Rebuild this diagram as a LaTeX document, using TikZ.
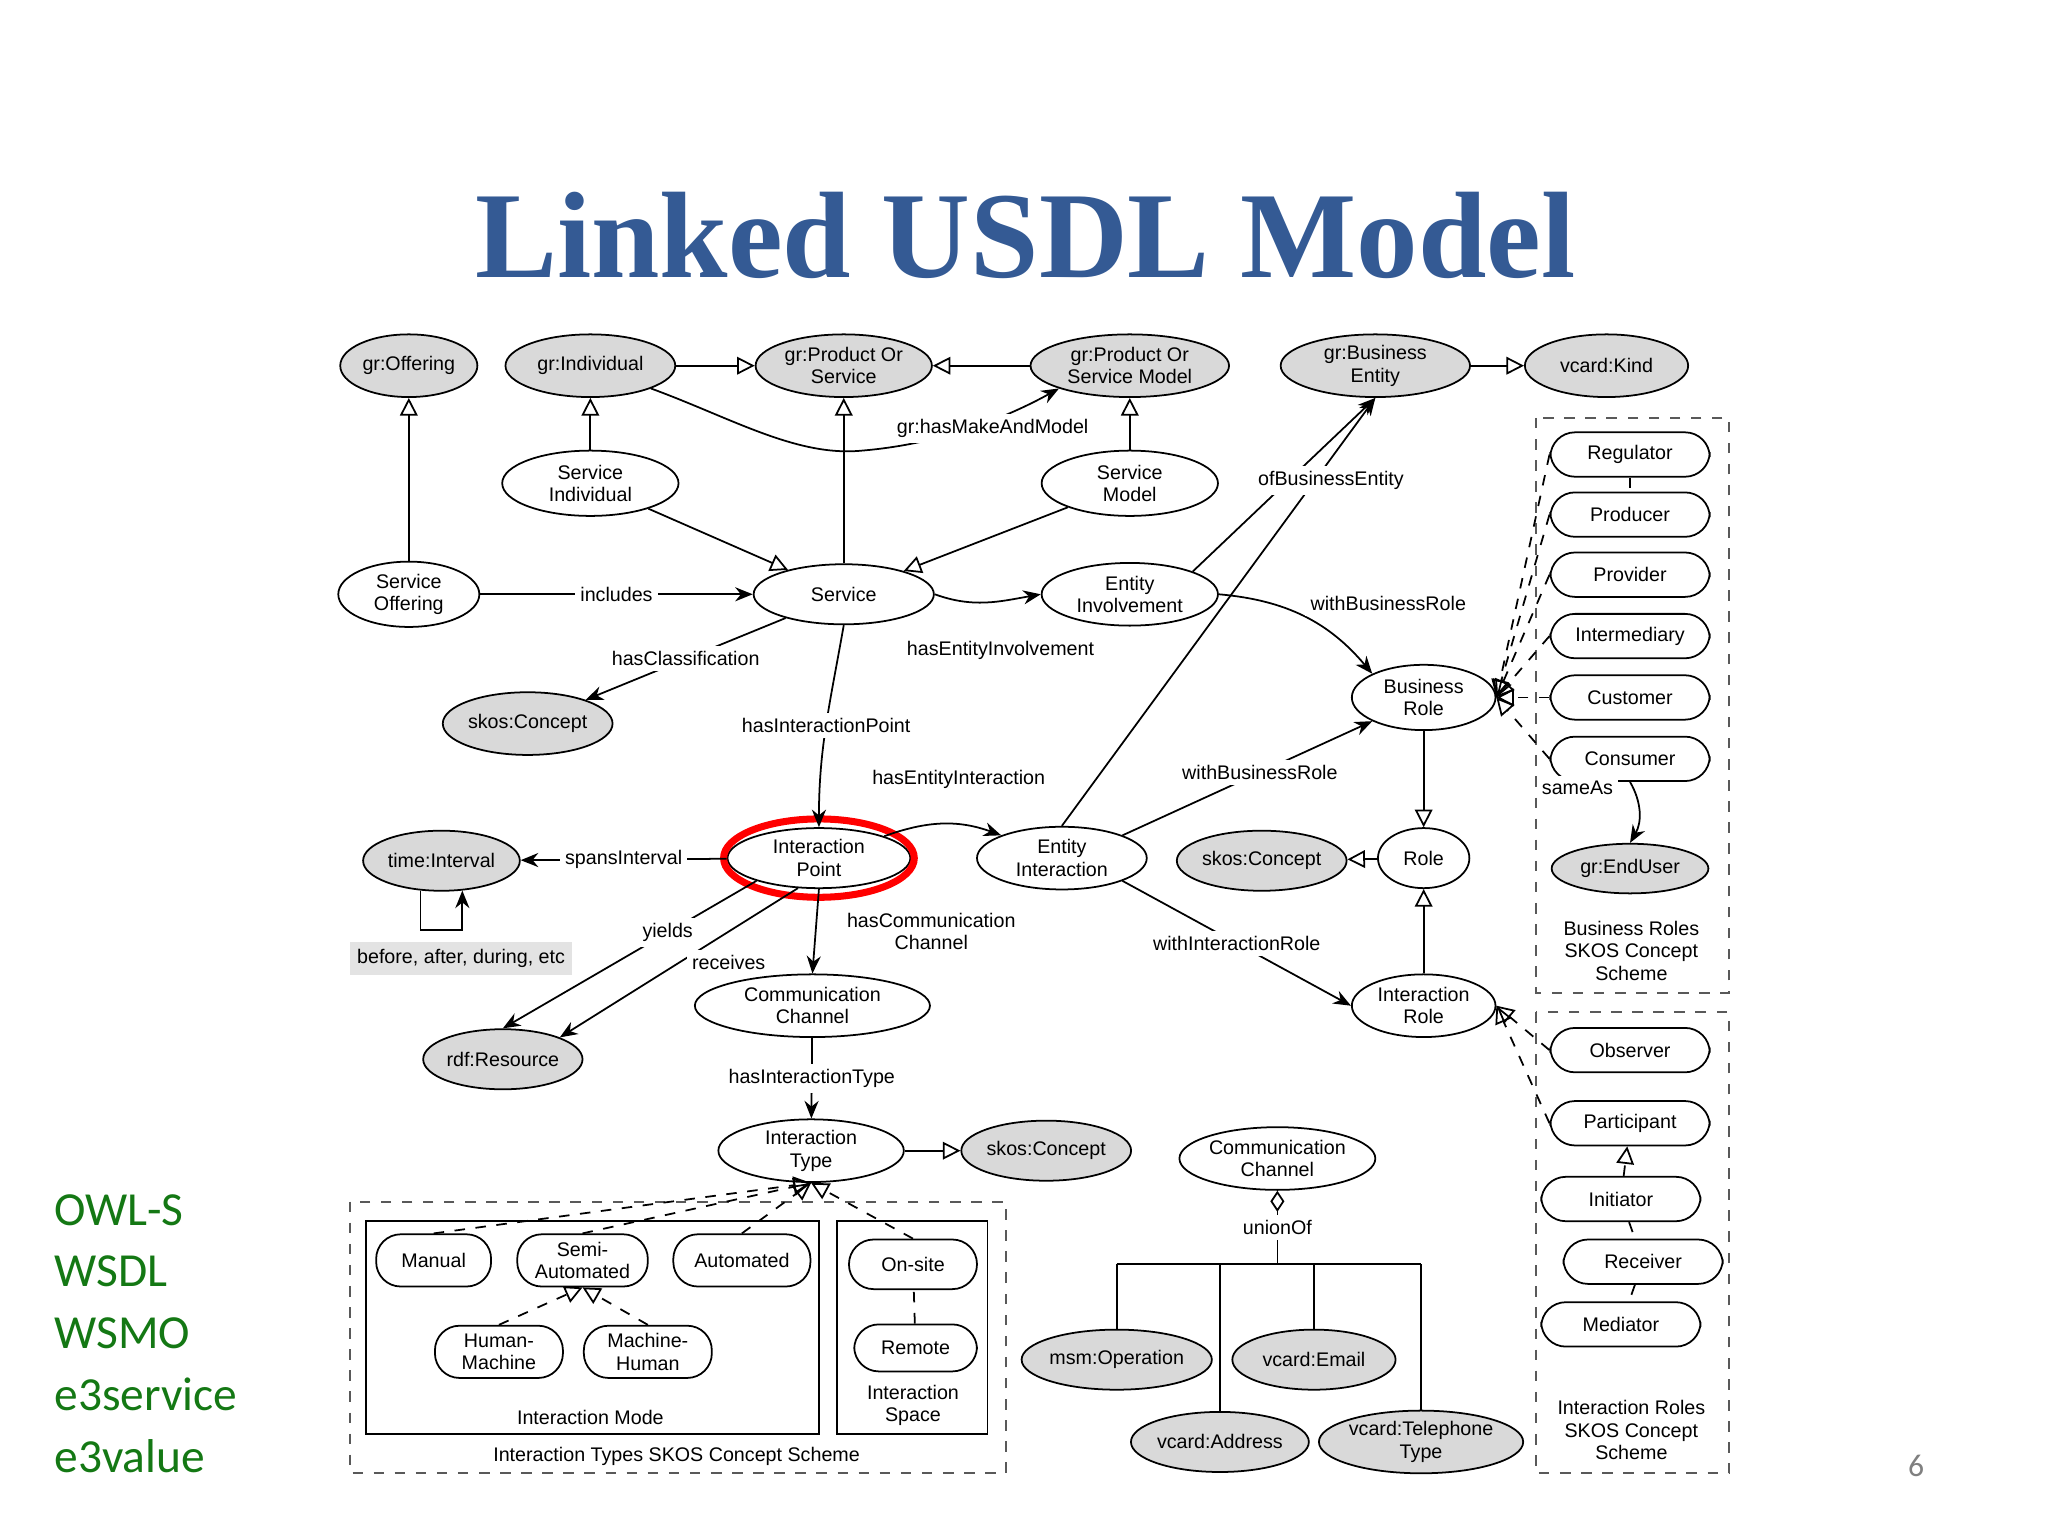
\documentclass[tikz,border=0pt]{standalone}
\usepackage{fontspec}
\setmainfont{Liberation Serif}
\setsansfont{Liberation Sans}
\newfontfamily\greenfont{Carlito}
\usetikzlibrary{shapes.geometric,arrows.meta}
\definecolor{titleblue}{RGB}{52,90,148}
\definecolor{sidegreen}{RGB}{20,120,20}
\tikzset{
  sz/.style 2 args={minimum width=#1*0.01306cm, minimum height=#2*0.01306cm},
  cls/.style={ellipse, draw, fill=gray!30, inner sep=0pt, align=center},
  ind/.style={ellipse, draw, fill=white, inner sep=0pt, align=center},
  con/.style={rounded corners=7pt, draw, fill=white, inner sep=0pt, align=center},
  inh/.style={-{Triangle[open,length=5pt,width=5pt]}},
  rel/.style={-{Stealth[length=5pt,width=4pt]}},
  lbl/.style={fill=white, inner sep=1.5pt, align=center},
  scheme/.style={draw, dashed, gray!70!black},
}
\begin{document}
\begin{tikzpicture}[x=0.01306cm,y=-0.01306cm, font=\sffamily\fontsize{5.6}{6.4}\selectfont, line width=0.5pt]
\useasboundingbox (0,0) rectangle (1568,1176);
% title and side text
\node (title) at (785,180) {\rmfamily\bfseries\fontsize{35}{40}\selectfont\color{titleblue}Linked USDL Model};
\node[anchor=west, align=left, text=sidegreen, font=\greenfont\fontsize{13.5}{17.6}\selectfont] (std) at (32,1021) {OWL-S\\WSDL\\WSMO\\e3service\\e3value};
\node[text=gray, font=\greenfont\fontsize{9}{10}\selectfont] (page) at (1467,1122) {6};

% scheme boxes
\draw[scheme] (1176,320) rectangle (1324,760);
\draw[scheme] (1176,775) rectangle (1324,1128);
\draw[scheme] (268,920) rectangle (770,1128);
\draw (280,935) rectangle (627,1098);
\draw (641,935) rectangle (756,1098);

% top row
\node[cls, sz={105}{48}] (off) at (313,280) {gr:Offering};
\node[cls, sz={130}{48}] (indv) at (452,280) {gr:Individual};
\node[cls, sz={135}{48}] (pos) at (646,280) {gr:Product Or\\Service};
\node[cls, sz={152}{48}] (posm) at (865,280) {gr:Product Or\\Service Model};
\node[cls, sz={145}{48}] (be) at (1053,280) {gr:Business\\Entity};
\node[cls, sz={125}{48}] (kind) at (1230,280) {vcard:Kind};

% core
\node[ind, sz={135}{50}] (sind) at (452,370) {Service\\Individual};
\node[ind, sz={135}{50}] (smod) at (865,370) {Service\\Model};
\node[ind, sz={108}{50}] (soff) at (313,455) {Service\\Offering};
\node[ind, sz={138}{46}] (serv) at (646,455) {Service};
\node[ind, sz={135}{48}] (einv) at (865,455) {Entity\\Involvement};
\node[cls, sz={130}{48}] (sk1) at (404,554) {skos:Concept};
\node[ind, sz={110}{50}] (brole) at (1090,534) {Business\\Role};
\node[ind, sz={140}{46}] (ip) at (627,657) {Interaction\\Point};
\draw[red, line width=2pt] (ip.center) ellipse (73 and 30);
\node[ind, sz={130}{48}] (eint) at (813,657) {Entity\\Interaction};
\node[cls, sz={120}{46}] (ti) at (338,659) {time:Interval};
\node[cls, sz={130}{46}] (sk2) at (966,659) {skos:Concept};
\node[ind, sz={70}{46}] (role) at (1090,657) {Role};
\node[ind, sz={180}{48}] (cc) at (622,770) {Communication\\Channel};
\node[cls, sz={122}{46}] (rdf) at (385,811) {rdf:Resource};
\node[ind, sz={110}{48}] (irole) at (1090,770) {Interaction\\Role};
\node[ind, sz={142}{48}] (itype) at (621,881) {Interaction\\Type};
\node[cls, sz={130}{46}] (sk3) at (801,881) {skos:Concept};
\node[ind, sz={150}{48}] (cc2) at (978,887) {Communication\\Channel};
\node[cls, sz={140}{46}] (msm) at (855,1041) {msm:Operation};
\node[cls, sz={125}{46}] (mail) at (1006,1041) {vcard:Email};
\node[cls, sz={132}{46}] (addr) at (934,1104) {vcard:Address};
\node[cls, sz={155}{48}] (tel) at (1088,1104) {vcard:Telephone\\Type};

% business roles
\node[con, sz={122}{34}] (reg) at (1248,348) {Regulator};
\node[con, sz={122}{34}] (prod) at (1248,394) {Producer};
\node[con, sz={122}{34}] (prov) at (1248,440) {Provider};
\node[con, sz={122}{34}] (inter) at (1248,487) {Intermediary};
\node[con, sz={122}{34}] (cust) at (1248,534) {Customer};
\node[con, sz={122}{34}] (cons) at (1248,581) {Consumer};
\node[cls, sz={120}{38}] (enduser) at (1248,665) {gr:EndUser};
\node[align=center] (brs) at (1249,728) {Business Roles\\SKOS Concept\\Scheme};

% interaction roles
\node[con, sz={122}{34}] (obs) at (1248,804) {Observer};
\node[con, sz={122}{34}] (part) at (1248,860) {Participant};
\node[con, sz={122}{34}] (init) at (1241,918) {Initiator};
\node[con, sz={122}{34}] (recv) at (1258,966) {Receiver};
\node[con, sz={122}{34}] (med) at (1241,1014) {Mediator};
\node[align=center] (irs) at (1249,1095) {Interaction Roles\\SKOS Concept\\Scheme};

% interaction types
\node[con, sz={88}{40}] (man) at (332,965) {Manual};
\node[con, sz={100}{40}] (semi) at (446,965) {Semi-\\Automated};
\node[con, sz={105}{40}] (auto) at (568,965) {Automated};
\node[con, sz={98}{38}] (onsite) at (699,968) {On-site};
\node[con, sz={98}{40}] (hm) at (382,1035) {Human-\\Machine};
\node[con, sz={98}{40}] (mh) at (496,1035) {Machine-\\Human};
\node[con, sz={94}{36}] (remote) at (701,1032) {Remote};
\node (imode) at (452,1085) {Interaction Mode};
\node[align=center] (ispace) at (699,1076) {Interaction\\Space};
\node (its) at (518,1115) {Interaction Types SKOS Concept Scheme};

% subclass links
\draw[inh] (soff) -- (off);
\draw[inh] (sind) -- (indv);
\draw[inh] (serv) -- (pos);
\draw[inh] (smod) -- (posm);
\draw[inh] (indv) -- (pos);
\draw[inh] (posm) -- (pos);
\draw[inh] (be) -- (kind);
\draw[inh] (sind) -- (serv);
\draw[inh] (smod) -- (serv);
\draw[inh] (brole) -- (role);
\draw[inh] (irole) -- (role);
\draw[inh] (role) -- (sk2);
\draw[inh] (itype) -- (sk3);

% properties
\coordinate (mm) at (660,345);
\draw[rel] (indv.south east) .. controls (560,320) and (610,350) .. (mm) .. controls (720,340) and (770,320) .. (posm.south west);
\node[lbl] (hmm) at (760,328) {gr:hasMakeAndModel};
\draw[rel] (soff) -- node[lbl] {includes} (serv);
\draw[rel] (serv) -- node[lbl] {hasClassification} (sk1);
\draw[rel] (serv.east) to[out=-20, in=190] (einv.west);
\node[lbl] (hei) at (766,498) {hasEntityInvolvement};
\draw[rel] (einv.north east) -- (be.south);
\draw[rel] (eint.north) -- (be.south);
\node[lbl] (obe) at (1019,368) {ofBusinessEntity};
\draw[rel] (einv.east) to[out=-5, in=130] node[lbl, pos=0.5, above right] {withBusinessRole} (brole.north west);
\draw[rel] (serv.south) to[out=-100, in=90] node[lbl] {hasInteractionPoint} (ip.north);
\draw[rel] (ip.north east) to[out=20, in=160] (eint.north west);
\node[lbl] (hein) at (734,597) {hasEntityInteraction};
\draw[rel] (eint.north east) -- node[lbl, pos=0.55] {withBusinessRole} (brole.south west);
\draw[rel] (eint.south east) -- node[lbl, pos=0.5] {withInteractionRole} (irole.west);
\draw[rel] (ip) -- node[lbl] {spansInterval} (ti);
\coordinate (lp) at (340,712);
\draw[rel] (ti.235) |- (lp) -| (ti.305);
\node[fill=gray!22, inner sep=2pt] (loop) at (353,734) {before, after, during, etc};
\draw[rel] (ip.200) -- node[lbl, pos=0.35] {yields} (rdf.north);
\draw[rel] (ip.235) -- node[lbl, pos=0.5, right=2pt] {receives} (rdf.north east);
\draw[rel] (ip.south) -- (cc.north);
\node[lbl] (hcc) at (713,713) {hasCommunication\\Channel};
\draw[rel] (cc) -- node[lbl] {hasInteractionType} (itype);
\draw[rel] (cons.south) to[out=-60, in=60] node[lbl, pos=0.1, left=4pt] {sameAs} (enduser.north);

% union of communication channel
\coordinate (uo) at (978,968);
\draw[{Diamond[open,length=6pt,width=4pt]}-] (cc2.south) -- node[lbl] {unionOf} (uo);
\draw (msm.north |- uo) -- (tel.north |- uo);
\draw (msm.north |- uo) -- (msm.north);
\draw (addr.north |- uo) -- (addr.north);
\draw (mail.north |- uo) -- (mail.north);
\draw (tel.north |- uo) -- (tel.north);

% scheme members
\foreach \r in {reg,prod,prov,inter,cust,cons}
  \draw[inh, dashed] (\r.west) -- (brole.east);
\foreach \r in {obs,part}
  \draw[inh, dashed] (\r.west) -- (irole.east);
\draw[dashed] (reg) -- (prod);
\draw[dashed] (init) -- (recv);
\draw[dashed] (recv) -- (med);
\draw[inh, dashed] (init) -- (part);
\foreach \t in {man,semi,auto,onsite}
  \draw[inh, dashed] (\t.north) -- (itype.south);
\draw[dashed] (remote) -- (onsite);
\draw[inh, dashed] (hm.north) -- (semi.south);
\draw[inh, dashed] (mh.north) -- (semi.south);
\end{tikzpicture}
\end{document}
